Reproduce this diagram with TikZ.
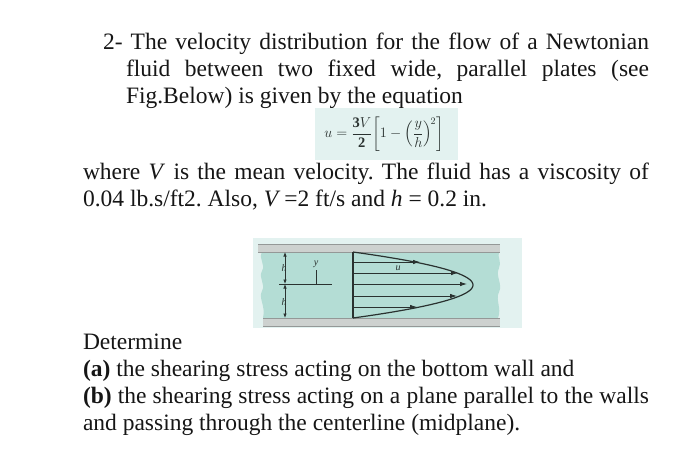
\documentclass[tikz,border=0pt]{standalone}
\usepackage{fontspec}
\usepackage{amsmath}
\setmainfont{Liberation Serif}
\frenchspacing
\definecolor{panel}{HTML}{E3F2F0}
\definecolor{fluid}{HTML}{B4DDD5}
\definecolor{plate}{HTML}{CDD1CF}
\definecolor{ink}{HTML}{2A3230}
\definecolor{txt}{HTML}{161616}
\usetikzlibrary{arrows.meta}
\tikzset{
  x=1pt,y=-1pt,
  line/.style={anchor=base west,inner sep=0pt,outer sep=0pt,font=\fontsize{23.5}{26}\selectfont,text=txt},
  lab/.style={inner sep=0pt,text=ink,font=\fontsize{10}{11}\selectfont\itshape},
  thin line/.style={draw=ink,line width=0.8pt},
  flow/.style={draw=ink,line width=0.8pt,-{Latex[length=7pt,width=4.5pt]}},
  dim/.style={draw=ink,line width=0.7pt,{Latex[length=4.5pt,width=3.5pt]}-{Latex[length=4.5pt,width=3.5pt]}}
}
\newcommand{\just}[2]{\hbox to #1pt{#2}}
\begin{document}
\begin{tikzpicture}
\useasboundingbox (0,0) rectangle (700,450);
\fill[white] (0,0) rectangle (700,450);
% text
\node[line] (t1) at (103,49) {\just{546}{2- The velocity distribution for the flow of a Newtonian}};
\node[line] (t2) at (126,76) {\just{523}{fluid between two fixed wide, parallel plates (see}};
\node[line] (t3) at (126,103) {Fig.Below) is given by the equation};
\node[line] (t4) at (83,179) {\just{566}{where \textit{V} is the mean velocity. The fluid has a viscosity of}};
\node[line] (t5) at (83,206) {0.04 lb.s/ft2. Also, \textit{V}\,=2 ft/s and \textit{h} = 0.2 in.};
\node[line] (t6) at (83,349) {Determine};
\node[line] (t7) at (83,376) {\textbf{(a)} the shearing stress acting on the bottom wall and};
\node[line] (t8) at (83,403) {\just{566}{\textbf{(b)} the shearing stress acting on a plane parallel to the walls}};
\node[line] (t9) at (83,430) {and passing through the centerline (midplane).};
% equation
\fill[panel] (315,108) rectangle (458,160);
\node[inner sep=0pt,text=ink] (eq) at (384,134) {\fontsize{14.5}{17}\selectfont $u=\dfrac{\mathbf{3}V}{\mathbf{2}}\!\left[1-\left(\dfrac{y}{h}\right)^{\!2}\right]$};
% figure
\fill[panel] (253,238) rectangle (522,328);
\fill[fluid] (262,252) .. controls (258,259) and (266,264) .. (262,271) .. controls (258,278) and (266,284) .. (262,291) .. controls (258,298) and (266,306) .. (263,318)
  -- (498,318) .. controls (502,308) and (495,300) .. (499,292) .. controls (503,284) and (495,276) .. (499,268) .. controls (502,262) and (497,257) .. (499,252) -- cycle;
\fill[plate] (258,244) rectangle (500,252);
\fill[plate] (263,318) rectangle (500,326);
\draw[ink!50,line width=0.7pt] (258,244) -- (500,244) (258,252) -- (500,252) (263,318) -- (500,318) (263,326) -- (500,326);
\coordinate (topw) at (285,252);
\coordinate (mid) at (285,284);
\coordinate (botw) at (285,318);
\draw[dim] (topw) -- (mid);
\draw[dim] (mid) -- (botw);
\coordinate (cl) at (279,284);
\coordinate (cr) at (332,284);
\draw[thin line] (cl) -- (cr);
\coordinate (yb) at (316,284);
\coordinate (yt) at (316,270);
\draw[thin line] (yb) -- (yt);
\node[lab] (ly) at (316,264) {y};
\node[lab] (h1) at (284,268) {h};
\node[lab] (h2) at (284,302) {h};
\node[lab] (lu) at (398,268) {u};
\coordinate (p0) at (353,252);
\coordinate (p1) at (353,318);
\draw[ink,line width=1.3pt] (p0) -- (p1);
\draw[ink,line width=1.2pt] plot[domain=-33:33,samples=41] ({353+120*(1-(\x/33)*(\x/33))},{285+\x});
\foreach \n/\yy/\xx in {a/262/420,b/273/458,c/284/467,d/296/457,e/307/417}{
  \coordinate (s\n) at (353,\yy);
  \coordinate (e\n) at (\xx,\yy);
  \draw[flow] (s\n) -- (e\n);
}
\end{tikzpicture}
\end{document}
